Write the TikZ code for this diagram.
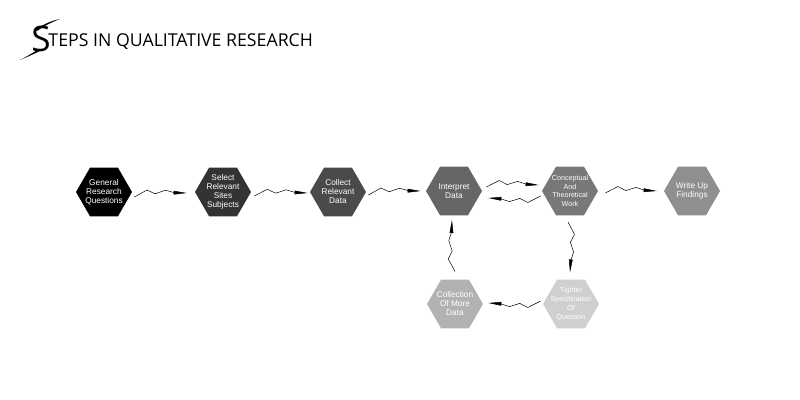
\documentclass[tikz,border=0pt]{standalone}
\usepackage{fontspec}
\setmainfont{Liberation Sans}
\newfontfamily\titlefont{Open Sans}
\usetikzlibrary{shapes.geometric,arrows.meta,calc}
\tikzset{
  hexa/.style={regular polygon,regular polygon sides=6,minimum size=1.4cm,inner sep=0pt},
  hexatext/.style={align=center,text=white,font=\fontsize{5.9}{6.4}\selectfont,inner sep=0pt},
  hexasmall/.style={hexatext,font=\fontsize{5.1}{6.3}\selectfont},
  wavy/.style={line width=.35pt,-{Stealth[length=13*.71pt,width=2.6pt,inset=0pt]},to path={
    -- ($(\tikztostart)!.25!(\tikztotarget)!.15cm!90:(\tikztotarget)$)
    -- ($(\tikztostart)!.4!(\tikztotarget)!.04cm!90:(\tikztotarget)$)
    -- ($(\tikztostart)!.6!(\tikztotarget)!.11cm!90:(\tikztotarget)$)
    -- ($(\tikztostart)!.77!(\tikztotarget)!.03cm!90:(\tikztotarget)$)
    -- (\tikztotarget)}}
}
\begin{document}
\begin{tikzpicture}[x=.025cm,y=-.025cm]
\useasboundingbox (0,0) rectangle (800,400);

\node[anchor=base west,inner sep=0pt,font=\titlefont\fontsize{12.6}{13}\selectfont] (title) at (31,47)
  {\raisebox{-3.5pt}{\fontsize{25}{25}\selectfont S}\kern-1.5pt TEPS IN QUALITATIVE RESEARCH};
\fill (60,19) .. controls (50,21) and (42,25) .. (36,30) -- (37,31) .. controls (44,26) and (52,22) .. (60,19);
\fill (20,60) .. controls (28,56) and (34,52) .. (39,49) -- (40,51) .. controls (34,54) and (27,57) .. (20,60);

\node[hexa,fill=black] (general) at (104,192) {};
\node[hexa,fill=black!80] (select) at (223,192) {};
\node[hexa,fill=black!71] (collect) at (338,192) {};
\node[hexa,fill=black!60] (interpret) at (454,191) {};
\node[hexa,fill=black!53] (conceptual) at (570,191) {};
\node[hexa,fill=black!44] (writeup) at (692,191) {};
\node[hexa,fill=black!30] (collection) at (455,304) {};
\node[hexa,fill=black!19] (tighter) at (571,304) {};

\node[hexatext] at (general) {General\\Research\\Questions};
\node[hexatext] at (select) {Select\\Relevant\\Sites\\Subjects};
\node[hexatext] at (collect) {Collect\\Relevant\\Data};
\node[hexatext] at (interpret) {Interpret\\Data};
\node[hexasmall] at (conceptual) {Conceptual\\And\\Theoretical\\Work};
\node[hexatext] at (writeup) {Write Up\\Findings};
\node[hexatext] at (collection) {Collection\\Of More\\Data};
\node[hexasmall] at (tighter) {Tighter\\Specification\\Of\\Question};

\draw[wavy] ([shift={(2,5)}]general.east) to ([shift={(-8,1)}]select.west);
\draw[wavy] ([shift={(3,4)}]select.east) to ([shift={(-2,1)}]collect.west);
\draw[wavy] ([shift={(2,3)}]collect.east) to ([shift={(-5,0)}]interpret.west);
\draw[wavy] ([shift={(4,-4)}]interpret.east) to ([shift={(-3,-6)}]conceptual.west);
\draw[wavy] ([shift={(-1,5)}]conceptual.west) to ([shift={(6,7)}]interpret.east);
\draw[wavy] ([shift={(7,2)}]conceptual.east) to ([shift={(-7,0)}]writeup.west);
\draw[wavy] ([shift={(-2,6.5)}]conceptual.south) to ([shift={(-1,-7)}]tighter.north);
\draw[wavy] ([shift={(-2,-3)}]tighter.west) to ([shift={(5,-1)}]collection.east);
\draw[wavy] ([shift={(0,-8)}]collection.north) to ([shift={(-2,4.5)}]interpret.south);

\end{tikzpicture}
\end{document}
